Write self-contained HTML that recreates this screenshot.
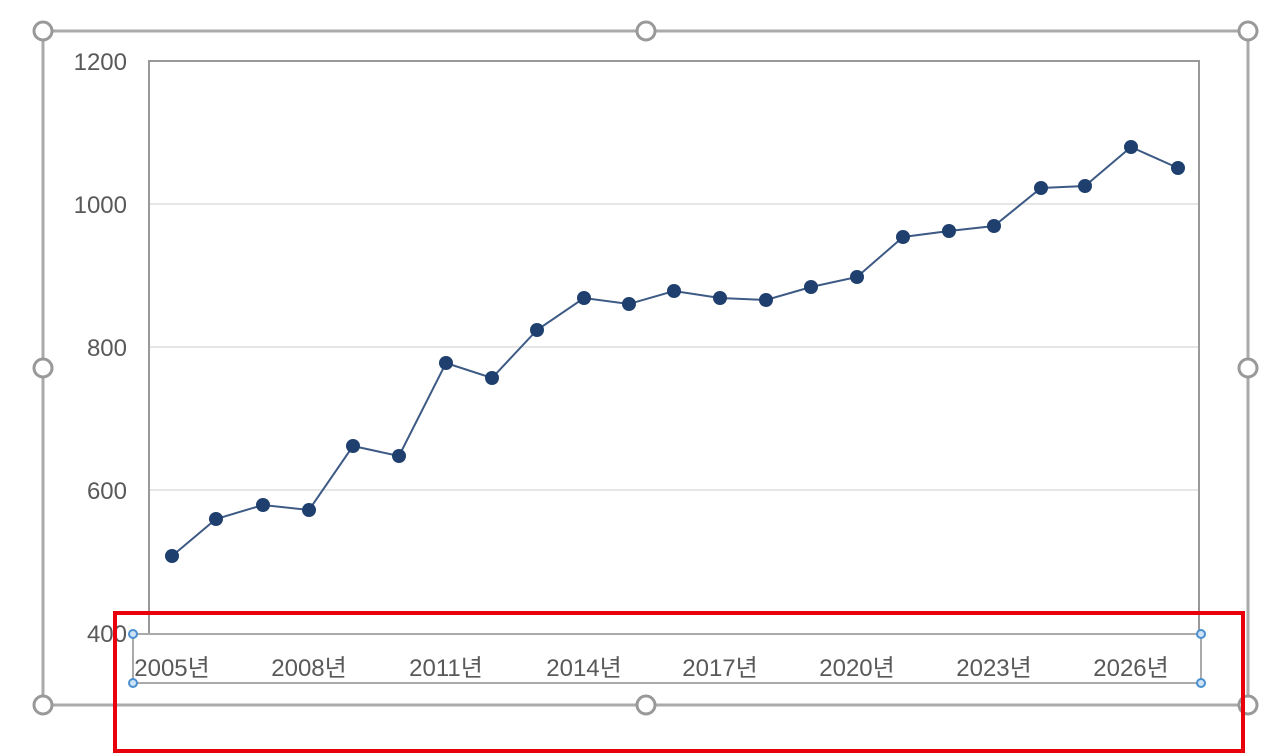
<!DOCTYPE html>
<html><head><meta charset="utf-8"><style>
html,body{margin:0;padding:0;background:#fff;width:1280px;height:756px;overflow:hidden}
text{font-family:"Liberation Sans","Noto Sans CJK KR",sans-serif;fill:#595959;font-size:24px}
</style></head><body>
<svg width="1280" height="756" viewBox="0 0 1280 756" xmlns="http://www.w3.org/2000/svg">
<g stroke="#aaa" stroke-width="3" fill="none">
<rect x="43" y="31" width="1205" height="674"/>
</g>
<g stroke="#ddd" stroke-width="1.5">
<line x1="149" y1="204" x2="1199" y2="204"/>
<line x1="149" y1="347" x2="1199" y2="347"/>
<line x1="149" y1="490" x2="1199" y2="490"/>
</g>
<rect x="149" y="61" width="1050" height="573" fill="none" stroke="#999" stroke-width="2"/>
<g text-anchor="end">
<text x="127" y="70">1200</text>
<text x="127" y="213">1000</text>
<text x="127" y="356">800</text>
<text x="127" y="499">600</text>
<text x="127" y="642">400</text>
</g>
<rect x="133" y="634" width="1068" height="49" fill="none" stroke="#aaa" stroke-width="2"/>
<g text-anchor="middle">
<text x="172" y="676">2005년</text>
<text x="309" y="676">2008년</text>
<text x="446" y="676">2011년</text>
<text x="584" y="676">2014년</text>
<text x="720" y="676">2017년</text>
<text x="857" y="676">2020년</text>
<text x="994" y="676">2023년</text>
<text x="1131" y="676">2026년</text>
</g>
<polyline fill="none" stroke="#3d5a85" stroke-width="2" points="172,556 216,519 263,505 309,510 353,446 399,456 446,363 492,378 537,330 584,298 629,304 674,291 720,298 766,300 811,287 857,277 903,237 949,231 994,226 1041,188 1085,186 1131,147 1178,168"/>
<g fill="#1f3f6e">
<circle cx="172" cy="556" r="7"/><circle cx="216" cy="519" r="7"/><circle cx="263" cy="505" r="7"/><circle cx="309" cy="510" r="7"/><circle cx="353" cy="446" r="7"/><circle cx="399" cy="456" r="7"/><circle cx="446" cy="363" r="7"/><circle cx="492" cy="378" r="7"/><circle cx="537" cy="330" r="7"/><circle cx="584" cy="298" r="7"/><circle cx="629" cy="304" r="7"/><circle cx="674" cy="291" r="7"/><circle cx="720" cy="298" r="7"/><circle cx="766" cy="300" r="7"/><circle cx="811" cy="287" r="7"/><circle cx="857" cy="277" r="7"/><circle cx="903" cy="237" r="7"/><circle cx="949" cy="231" r="7"/><circle cx="994" cy="226" r="7"/><circle cx="1041" cy="188" r="7"/><circle cx="1085" cy="186" r="7"/><circle cx="1131" cy="147" r="7"/><circle cx="1178" cy="168" r="7"/>
</g>
<g fill="#fff" stroke="#999" stroke-width="3">
<circle cx="43" cy="31" r="9"/><circle cx="646" cy="31" r="9"/><circle cx="1248" cy="31" r="9"/>
<circle cx="43" cy="368" r="9"/><circle cx="1248" cy="368" r="9"/>
<circle cx="43" cy="705" r="9"/><circle cx="646" cy="705" r="9"/><circle cx="1248" cy="705" r="9"/>
</g>
<g fill="#cfe3f5" stroke="#4a90d0" stroke-width="2">
<circle cx="133" cy="634" r="4"/><circle cx="1201" cy="634" r="4"/><circle cx="133" cy="683" r="4"/><circle cx="1201" cy="683" r="4"/>
</g>
<rect x="115" y="613" width="1128" height="138" fill="none" stroke="#e8000b" stroke-width="4"/>
</svg>
</body></html>
